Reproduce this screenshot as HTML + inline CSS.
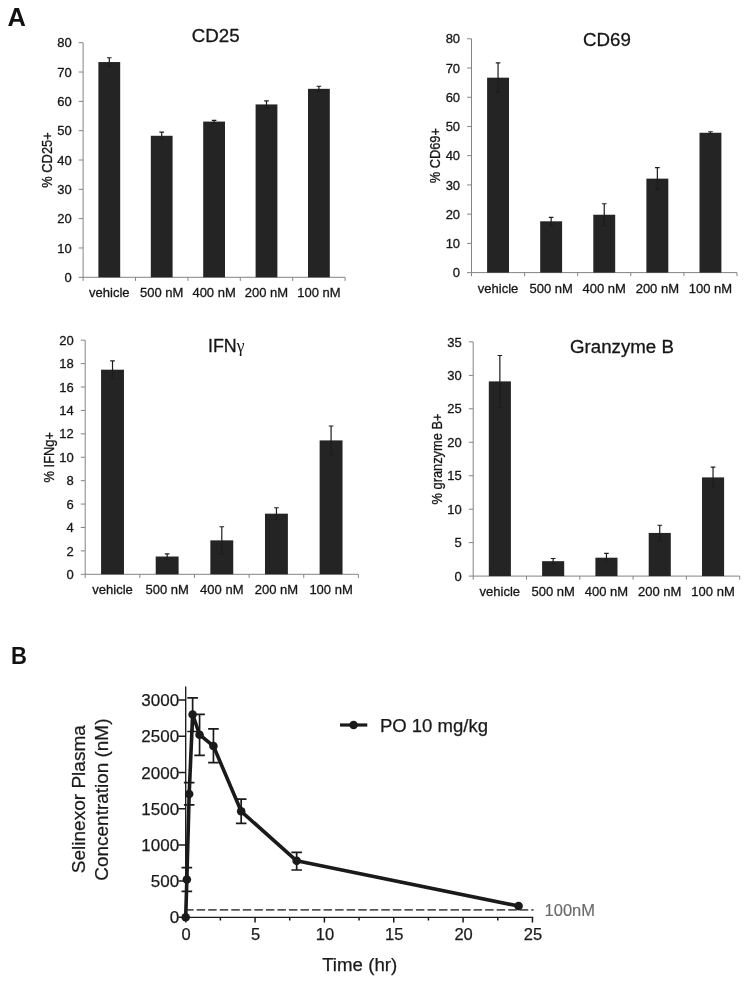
<!DOCTYPE html>
<html lang="en"><head><meta charset="utf-8"><title>Figure</title>
<style>html,body{margin:0;padding:0;background:#fff}body{width:749px;height:984px;overflow:hidden}svg{display:block}text{font-family:"Liberation Sans", Arial, Helvetica, sans-serif;stroke-linejoin:round}.a text{stroke:#161616;stroke-width:.3px}.b text{stroke:#1a1a1a;stroke-width:.25px}</style>
</head><body>
<svg width="749" height="984" viewBox="0 0 749 984">
<rect width="749" height="984" fill="#fff"/>
<text x="7.6" y="25.5" font-size="25.5" font-weight="bold" fill="#111">A</text>
<text transform="translate(10.9 664) scale(.9 1)" font-size="24.5" font-weight="bold" fill="#111">B</text>
<g class="a">
<path d="M83.1 42.7V277.3H345.1" fill="none" stroke="#848484" stroke-width="1"/>
<path d="M78.70 277.30H83.1M78.70 247.98H83.1M78.70 218.65H83.1M78.70 189.32H83.1M78.70 160.00H83.1M78.70 130.68H83.1M78.70 101.35H83.1M78.70 72.03H83.1M78.70 42.70H83.1M83.10 277.3v3.6M135.50 277.3v3.6M187.90 277.3v3.6M240.30 277.3v3.6M292.70 277.3v3.6M345.10 277.3v3.6" fill="none" stroke="#848484" stroke-width="1"/>
<g font-size="13" text-anchor="end" fill="#161616">
<text x="71.70" y="281.95">0</text>
<text x="71.70" y="252.63">10</text>
<text x="71.70" y="223.30">20</text>
<text x="71.70" y="193.98">30</text>
<text x="71.70" y="164.65">40</text>
<text x="71.70" y="135.33">50</text>
<text x="71.70" y="106.00">60</text>
<text x="71.70" y="76.68">70</text>
<text x="71.70" y="47.35">80</text>
</g>
<rect x="98.40" y="62.05" width="21.8" height="215.25" fill="#242424"/>
<path d="M109.30 57.75V66.35M107.00 57.75h4.6M107.00 66.35h4.6" stroke="#1c1c1c" stroke-width="1.2" fill="none"/>
<rect x="150.80" y="135.78" width="21.8" height="141.52" fill="#242424"/>
<path d="M161.70 132.08V139.48M159.40 132.08h4.6M159.40 139.48h4.6" stroke="#1c1c1c" stroke-width="1.2" fill="none"/>
<rect x="203.20" y="121.58" width="21.8" height="155.72" fill="#242424"/>
<path d="M214.10 120.28V122.88M211.80 120.28h4.6M211.80 122.88h4.6" stroke="#1c1c1c" stroke-width="1.2" fill="none"/>
<rect x="255.60" y="104.43" width="21.8" height="172.87" fill="#242424"/>
<path d="M266.50 100.83V108.03M264.20 100.83h4.6M264.20 108.03h4.6" stroke="#1c1c1c" stroke-width="1.2" fill="none"/>
<rect x="308.00" y="88.83" width="21.8" height="188.47" fill="#242424"/>
<path d="M318.90 86.23V91.43M316.60 86.23h4.6M316.60 91.43h4.6" stroke="#1c1c1c" stroke-width="1.2" fill="none"/>
<g font-size="13" text-anchor="middle" fill="#161616">
<text x="109.30" y="297.1">vehicle</text>
<text x="161.70" y="297.1">500 nM</text>
<text x="214.10" y="297.1">400 nM</text>
<text x="266.50" y="297.1">200 nM</text>
<text x="318.90" y="297.1">100 nM</text>
</g>
<text transform="translate(215.75 42.4) scale(1 1)" font-size="18.7" text-anchor="middle" fill="#161616">CD25</text>
<text transform="translate(52 160.00) rotate(-90) scale(.905 1)" font-size="14.2" text-anchor="middle" fill="#161616">% CD25+</text>
</g>
<g class="a">
<path d="M471.5 38.8V272.6H737" fill="none" stroke="#848484" stroke-width="1"/>
<path d="M467.10 272.60H471.5M467.10 243.38H471.5M467.10 214.15H471.5M467.10 184.93H471.5M467.10 155.70H471.5M467.10 126.47H471.5M467.10 97.25H471.5M467.10 68.03H471.5M467.10 38.80H471.5M471.50 272.6v3.6M524.60 272.6v3.6M577.70 272.6v3.6M630.80 272.6v3.6M683.90 272.6v3.6M737.00 272.6v3.6" fill="none" stroke="#848484" stroke-width="1"/>
<g font-size="13" text-anchor="end" fill="#161616">
<text x="460.10" y="277.25">0</text>
<text x="460.10" y="248.03">10</text>
<text x="460.10" y="218.80">20</text>
<text x="460.10" y="189.58">30</text>
<text x="460.10" y="160.35">40</text>
<text x="460.10" y="131.13">50</text>
<text x="460.10" y="101.90">60</text>
<text x="460.10" y="72.68">70</text>
<text x="460.10" y="43.45">80</text>
</g>
<rect x="487.10" y="77.67" width="21.9" height="194.93" fill="#242424"/>
<path d="M498.05 62.87V92.47M495.75 62.87h4.6M495.75 92.47h4.6" stroke="#1c1c1c" stroke-width="1.2" fill="none"/>
<rect x="540.20" y="221.31" width="21.9" height="51.29" fill="#242424"/>
<path d="M551.15 217.31V225.31M548.85 217.31h4.6M548.85 225.31h4.6" stroke="#1c1c1c" stroke-width="1.2" fill="none"/>
<rect x="593.30" y="214.73" width="21.9" height="57.87" fill="#242424"/>
<path d="M604.25 203.73V225.73M601.95 203.73h4.6M601.95 225.73h4.6" stroke="#1c1c1c" stroke-width="1.2" fill="none"/>
<rect x="646.40" y="178.64" width="21.9" height="93.96" fill="#242424"/>
<path d="M657.35 167.64V189.64M655.05 167.64h4.6M655.05 189.64h4.6" stroke="#1c1c1c" stroke-width="1.2" fill="none"/>
<rect x="699.50" y="132.76" width="21.9" height="139.84" fill="#242424"/>
<path d="M710.45 131.76V133.76M708.15 131.76h4.6M708.15 133.76h4.6" stroke="#1c1c1c" stroke-width="1.2" fill="none"/>
<g font-size="13" text-anchor="middle" fill="#161616">
<text x="498.05" y="292.5">vehicle</text>
<text x="551.15" y="292.5">500 nM</text>
<text x="604.25" y="292.5">400 nM</text>
<text x="657.35" y="292.5">200 nM</text>
<text x="710.45" y="292.5">100 nM</text>
</g>
<text transform="translate(607 46) scale(1 1)" font-size="18.7" text-anchor="middle" fill="#161616">CD69</text>
<text transform="translate(440.0 155.70) rotate(-90) scale(.905 1)" font-size="14.2" text-anchor="middle" fill="#161616">% CD69+</text>
</g>
<g class="a">
<path d="M85.2 340.2V574.3H358.4" fill="none" stroke="#848484" stroke-width="1"/>
<path d="M80.80 574.30H85.2M80.80 550.89H85.2M80.80 527.48H85.2M80.80 504.07H85.2M80.80 480.66H85.2M80.80 457.25H85.2M80.80 433.84H85.2M80.80 410.43H85.2M80.80 387.02H85.2M80.80 363.61H85.2M80.80 340.20H85.2M85.20 574.3v3.6M139.84 574.3v3.6M194.48 574.3v3.6M249.12 574.3v3.6M303.76 574.3v3.6M358.40 574.3v3.6" fill="none" stroke="#848484" stroke-width="1"/>
<g font-size="13" text-anchor="end" fill="#161616">
<text x="73.80" y="578.95">0</text>
<text x="73.80" y="555.54">2</text>
<text x="73.80" y="532.13">4</text>
<text x="73.80" y="508.72">6</text>
<text x="73.80" y="485.31">8</text>
<text x="73.80" y="461.90">10</text>
<text x="73.80" y="438.49">12</text>
<text x="73.80" y="415.08">14</text>
<text x="73.80" y="391.67">16</text>
<text x="73.80" y="368.26">18</text>
<text x="73.80" y="344.85">20</text>
</g>
<rect x="101.07" y="369.70" width="22.9" height="204.60" fill="#242424"/>
<path d="M112.52 360.90V378.50M110.22 360.90h4.6M110.22 378.50h4.6" stroke="#1c1c1c" stroke-width="1.2" fill="none"/>
<rect x="155.71" y="556.51" width="22.9" height="17.79" fill="#242424"/>
<path d="M167.16 553.81V559.21M164.86 553.81h4.6M164.86 559.21h4.6" stroke="#1c1c1c" stroke-width="1.2" fill="none"/>
<rect x="210.35" y="540.36" width="22.9" height="33.94" fill="#242424"/>
<path d="M221.80 526.76V553.96M219.50 526.76h4.6M219.50 553.96h4.6" stroke="#1c1c1c" stroke-width="1.2" fill="none"/>
<rect x="264.99" y="513.67" width="22.9" height="60.63" fill="#242424"/>
<path d="M276.44 507.77V519.57M274.14 507.77h4.6M274.14 519.57h4.6" stroke="#1c1c1c" stroke-width="1.2" fill="none"/>
<rect x="319.63" y="440.39" width="22.9" height="133.91" fill="#242424"/>
<path d="M331.08 425.99V454.79M328.78 425.99h4.6M328.78 454.79h4.6" stroke="#1c1c1c" stroke-width="1.2" fill="none"/>
<g font-size="13" text-anchor="middle" fill="#161616">
<text x="112.52" y="593.5">vehicle</text>
<text x="167.16" y="593.5">500 nM</text>
<text x="221.80" y="593.5">400 nM</text>
<text x="276.44" y="593.5">200 nM</text>
<text x="331.08" y="593.5">100 nM</text>
</g>
<text transform="translate(208.0 352.3) scale(0.955 1)" font-size="18.7" text-anchor="start" fill="#161616">IFN<tspan font-family="'Liberation Serif', 'DejaVu Serif', serif" font-size="18.5" stroke="none">γ</tspan></text>
<text transform="translate(54.1 457.25) rotate(-90) scale(.905 1)" font-size="14.2" text-anchor="middle" fill="#161616">% IFNg+</text>
</g>
<g class="a">
<path d="M473.2 341.9V576.1H739.7" fill="none" stroke="#848484" stroke-width="1"/>
<path d="M468.80 576.10H473.2M468.80 542.64H473.2M468.80 509.19H473.2M468.80 475.73H473.2M468.80 442.27H473.2M468.80 408.81H473.2M468.80 375.36H473.2M468.80 341.90H473.2M473.20 576.1v3.6M526.50 576.1v3.6M579.80 576.1v3.6M633.10 576.1v3.6M686.40 576.1v3.6M739.70 576.1v3.6" fill="none" stroke="#848484" stroke-width="1"/>
<g font-size="13" text-anchor="end" fill="#161616">
<text x="461.80" y="580.75">0</text>
<text x="461.80" y="547.30">5</text>
<text x="461.80" y="513.84">10</text>
<text x="461.80" y="480.38">15</text>
<text x="461.80" y="446.93">20</text>
<text x="461.80" y="413.47">25</text>
<text x="461.80" y="380.01">30</text>
<text x="461.80" y="346.55">35</text>
</g>
<rect x="488.80" y="381.38" width="22.1" height="194.72" fill="#242424"/>
<path d="M499.85 355.48V407.28M497.55 355.48h4.6M497.55 407.28h4.6" stroke="#1c1c1c" stroke-width="1.2" fill="none"/>
<rect x="542.10" y="561.18" width="22.1" height="14.92" fill="#242424"/>
<path d="M553.15 558.48V563.88M550.85 558.48h4.6M550.85 563.88h4.6" stroke="#1c1c1c" stroke-width="1.2" fill="none"/>
<rect x="595.40" y="557.70" width="22.1" height="18.40" fill="#242424"/>
<path d="M606.45 553.40V562.00M604.15 553.40h4.6M604.15 562.00h4.6" stroke="#1c1c1c" stroke-width="1.2" fill="none"/>
<rect x="648.70" y="532.94" width="22.1" height="43.16" fill="#242424"/>
<path d="M659.75 525.24V540.64M657.45 525.24h4.6M657.45 540.64h4.6" stroke="#1c1c1c" stroke-width="1.2" fill="none"/>
<rect x="702.00" y="477.40" width="22.1" height="98.70" fill="#242424"/>
<path d="M713.05 467.10V487.70M710.75 467.10h4.6M710.75 487.70h4.6" stroke="#1c1c1c" stroke-width="1.2" fill="none"/>
<g font-size="13" text-anchor="middle" fill="#161616">
<text x="499.85" y="595.65">vehicle</text>
<text x="553.15" y="595.65">500 nM</text>
<text x="606.45" y="595.65">400 nM</text>
<text x="659.75" y="595.65">200 nM</text>
<text x="713.05" y="595.65">100 nM</text>
</g>
<text transform="translate(570 352.6) scale(1 1)" font-size="18.7" text-anchor="start" fill="#161616">Granzyme B</text>
<text transform="translate(441.8 459.00) rotate(-90) scale(.905 1)" font-size="14.2" text-anchor="middle" fill="#161616">% granzyme B+</text>
</g>
<g class="b">
<path d="M185.1 909.9H533.6" stroke="#555" stroke-width="1.9" stroke-dasharray="8.5 3.04" fill="none"/>
<path d="M185.7 686.5V917.3H533.25" fill="none" stroke="#1a1a1a" stroke-width="1.35"/>
<path d="M178.40 917.30H185.7M178.40 881.10H185.7M178.40 844.90H185.7M178.40 808.70H185.7M178.40 772.50H185.7M178.40 736.30H185.7M178.40 700.10H185.7M185.70 917.3v5.3M220.38 917.3v3.2M255.05 917.3v5.3M289.72 917.3v3.2M324.40 917.3v5.3M359.07 917.3v3.2M393.75 917.3v5.3M428.42 917.3v3.2M463.10 917.3v5.3M497.77 917.3v3.2M532.45 917.3v5.3" fill="none" stroke="#1a1a1a" stroke-width="1.5"/>
<g font-size="17" text-anchor="end" fill="#1a1a1a">
<text x="179.10" y="923.30">0</text>
<text x="179.10" y="887.10">500</text>
<text x="179.10" y="850.90">1000</text>
<text x="179.10" y="814.70">1500</text>
<text x="179.10" y="778.50">2000</text>
<text x="179.10" y="742.30">2500</text>
<text x="179.10" y="706.10">3000</text>
</g>
<g font-size="16.5" text-anchor="middle" fill="#1a1a1a">
<text x="186.20" y="939.8">0</text>
<text x="255.55" y="939.8">5</text>
<text x="324.90" y="939.8">10</text>
<text x="394.25" y="939.8">15</text>
<text x="463.60" y="939.8">20</text>
<text x="532.95" y="939.8">25</text>
</g>
<path d="M186.85 867.6V891.3M181.55 867.6h10.6M181.55 891.3h10.6M189.17 782.7V804.8M183.87 782.7h10.6M183.87 804.8h10.6M192.63 697.9V731.5M187.33 697.9h10.6M187.33 731.5h10.6M199.57 714.4V755.4M194.27 714.4h10.6M194.27 755.4h10.6M213.44 728.9V762.6M208.14 728.9h10.6M208.14 762.6h10.6M241.18 799.2V823.3M235.88 799.2h10.6M235.88 823.3h10.6M296.66 852.4V870.0M291.36 852.4h10.6M291.36 870.0h10.6" fill="none" stroke="#1a1a1a" stroke-width="1.7"/>
<polyline points="185.70,917.30 186.85,879.51 189.17,794.08 192.63,714.44 199.57,734.71 213.44,746.07 241.18,811.31 296.66,860.83 518.58,906.08" fill="none" stroke="#1a1a1a" stroke-width="3.6" stroke-linejoin="round"/>
<circle cx="185.70" cy="917.30" r="4.3" fill="#1a1a1a"/>
<circle cx="186.85" cy="879.51" r="4.3" fill="#1a1a1a"/>
<circle cx="189.17" cy="794.08" r="4.3" fill="#1a1a1a"/>
<circle cx="192.63" cy="714.44" r="4.3" fill="#1a1a1a"/>
<circle cx="199.57" cy="734.71" r="4.3" fill="#1a1a1a"/>
<circle cx="213.44" cy="746.07" r="4.3" fill="#1a1a1a"/>
<circle cx="241.18" cy="811.31" r="4.3" fill="#1a1a1a"/>
<circle cx="296.66" cy="860.83" r="4.3" fill="#1a1a1a"/>
<circle cx="518.58" cy="906.08" r="4.3" fill="#1a1a1a"/>
<path d="M340 725H367.3" stroke="#1a1a1a" stroke-width="3.2" fill="none"/><circle cx="353.6" cy="725" r="4.3" fill="#1a1a1a"/>
<text x="379.9" y="731.6" font-size="18.55" fill="#1a1a1a">PO 10 mg/kg</text>
<text x="544.6" y="915.6" font-size="16.5" fill="#6a6a6a" style="stroke:#6a6a6a;stroke-width:.15px">100nM</text>
<text x="359.7" y="970.8" font-size="18.7" text-anchor="middle" fill="#1a1a1a">Time (hr)</text>
<text transform="translate(84.8 799.2) rotate(-90)" font-size="19.05" text-anchor="middle" fill="#1a1a1a">Selinexor Plasma</text>
<text transform="translate(107.9 799.6) rotate(-90)" font-size="18.95" text-anchor="middle" fill="#1a1a1a">Concentration (nM)</text>
</g>
</svg>
</body></html>
